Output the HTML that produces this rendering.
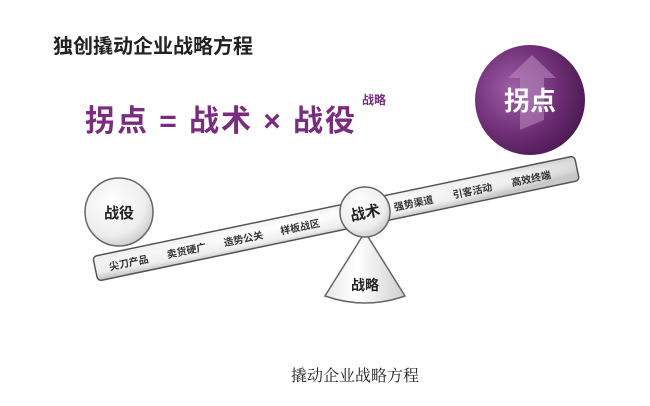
<!DOCTYPE html>
<html><head><meta charset="utf-8"><style>
body{margin:0;background:#fff;width:650px;height:401px;overflow:hidden}
svg text{font-family:"Liberation Sans","Noto Sans CJK SC",sans-serif}
</style></head><body>
<svg width="650" height="401" viewBox="0 0 650 401" xmlns="http://www.w3.org/2000/svg">
<defs>
<radialGradient id="g" cx="40%" cy="35%" r="70%"><stop offset="0" stop-color="#ffffff"/><stop offset="0.7" stop-color="#eeeeee"/><stop offset="1" stop-color="#c8c8c8"/></radialGradient>
<radialGradient id="p" cx="35%" cy="40%" r="70%"><stop offset="0" stop-color="#a060a8"/><stop offset="0.6" stop-color="#6e2e74"/><stop offset="1" stop-color="#4a1850"/></radialGradient>
<linearGradient id="c" x1="0" x2="1"><stop offset="0" stop-color="#e8e8e8"/><stop offset="0.4" stop-color="#ffffff"/><stop offset="1" stop-color="#cfcfcf"/></linearGradient>
</defs>
<text x="53" y="53" font-size="20" font-weight="bold" fill="#222">独创撬动企业战略方程</text>
<text x="85" y="131" font-size="30" font-weight="bold" fill="#7a2d80" textLength="270" lengthAdjust="spacing">拐点 = 战术 × 战役</text>
<text x="362" y="104" font-size="12" font-weight="bold" fill="#7a2d80">战略</text>
<path d="M365 232 L325 296 Q365 310 405 296 Z" fill="url(#c)" stroke="#666" stroke-width="1.5"/>
<text x="365" y="290" font-size="14" font-weight="bold" text-anchor="middle" fill="#222">战略</text>
<circle cx="119" cy="212" r="34" fill="url(#g)" stroke="#666" stroke-width="1.5"/>
<text x="119" y="218" font-size="15" font-weight="bold" text-anchor="middle" fill="#222">战役</text>
<circle cx="530" cy="100" r="55" fill="url(#p)"/>
<path d="M520 130 L520 78 L508 78 L532 55 L556 78 L544 78 L544 120 Z" fill="#b88cc0" opacity="0.55"/>
<text x="530" y="110" font-size="26" font-weight="bold" text-anchor="middle" fill="#fff">拐点</text>
<g transform="translate(336,218) rotate(-11.8)">
<rect x="-246" y="-12" width="492" height="25" rx="4" fill="url(#g)" stroke="#555" stroke-width="1.5"/>
<g font-size="10" font-weight="bold" fill="#333" text-anchor="middle">
<text x="-212" y="5">尖刀产品</text>
<text x="-153" y="5">卖货硬广</text>
<text x="-95" y="5">造势公关</text>
<text x="-37" y="5">样板战区</text>
<text x="79" y="5">强势渠道</text>
<text x="139" y="5">引客活动</text>
<text x="199" y="5">高效终端</text>
</g>
</g>
<circle cx="365" cy="212" r="25" fill="url(#g)" stroke="#666" stroke-width="1.5"/>
<text x="365" y="218" font-size="15" font-weight="bold" text-anchor="middle" fill="#222" transform="rotate(-11.8 365 212)">战术</text>
<text x="355" y="381" font-size="16" text-anchor="middle" fill="#222" style="font-family:'Liberation Serif','Noto Serif CJK SC',serif">撬动企业战略方程</text>
</svg>
</body></html>
